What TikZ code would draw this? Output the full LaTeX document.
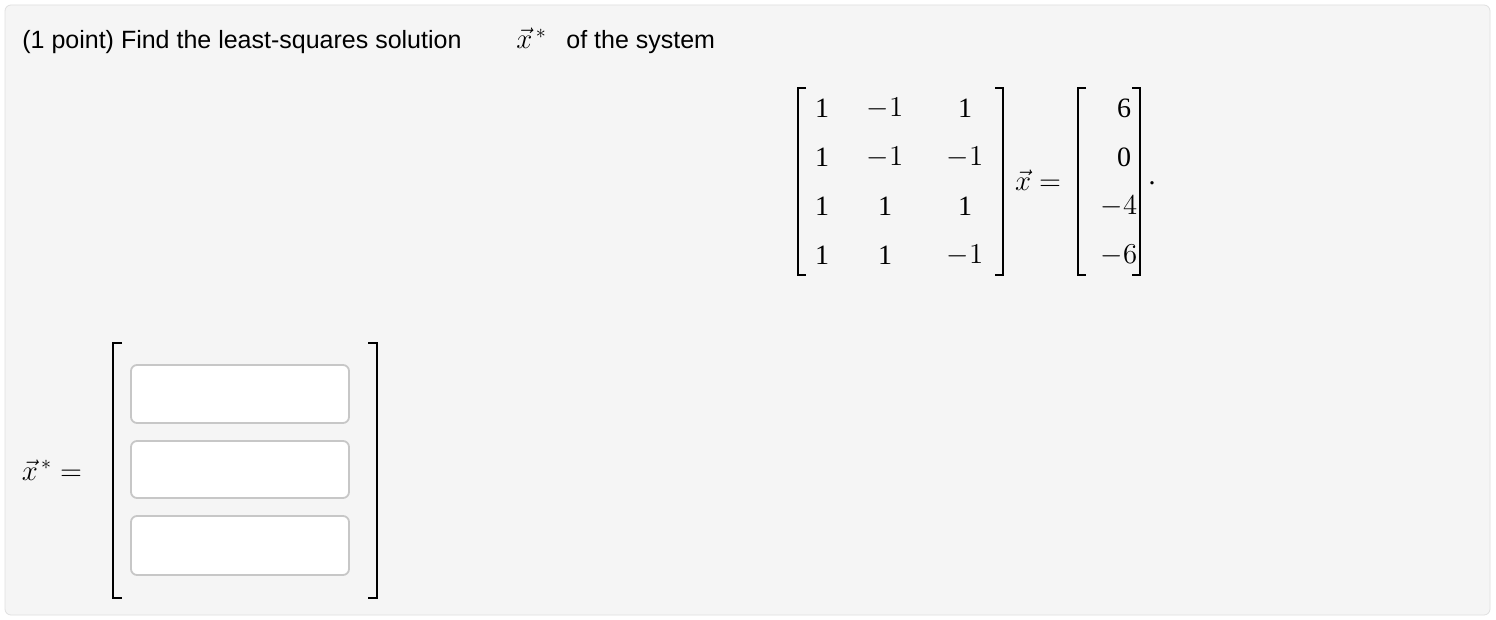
\documentclass[tikz,border=0pt]{standalone}
\usepackage{fontspec}
\setmainfont{Liberation Serif}
\newfontfamily\uisans{Liberation Sans}
\begin{document}
\begin{tikzpicture}[x=0.5pt,y=-0.5pt,
  entry/.style={font=\fontsize{14}{16}\selectfont, anchor=center, inner sep=0pt},
  title/.style={font=\uisans\fontsize{12.5}{15}\selectfont, anchor=base west, inner sep=0pt},
  brk/.style={line width=1pt},
  inbox/.style={draw=black!22, fill=white, rounded corners=3pt, line width=0.9pt}]
\useasboundingbox (0,0) rectangle (1496,620);
\fill[white] (0,0) rectangle (1496,620);
\draw[black!12, fill=black!4, rounded corners=3pt] (5,5) rectangle (1490,615);
% title
\node[title] (t1) at (22,49) {(1 point) Find the least-squares solution};
\node[entry, anchor=base west] (xs1) at (516,49) {$\vec{x}^{\,*}$};
\node[title] (t2) at (566,49) {of the system};
% left matrix brackets
\draw[brk] (806,88) -- (798,88) -- (798,275) -- (806,275);
\draw[brk] (995,88) -- (1003,88) -- (1003,275) -- (995,275);
\foreach \r/\y in {1/108,2/157,3/206,4/255}{}
\node[entry] (a11) at (822,108) {1}; \node[entry] (a12) at (885,108) {$-1$}; \node[entry] (a13) at (965,108) {1};
\node[entry] (a21) at (822,157) {1}; \node[entry] (a22) at (885,157) {$-1$}; \node[entry] (a23) at (965,157) {$-1$};
\node[entry] (a31) at (822,206) {1}; \node[entry] (a32) at (885,206) {1}; \node[entry] (a33) at (965,206) {1};
\node[entry] (a41) at (822,255) {1}; \node[entry] (a42) at (885,255) {1}; \node[entry] (a43) at (965,255) {$-1$};
\node[entry] (xeq) at (1038,180) {$\vec{x}=$};
% right vector
\draw[brk] (1086,88) -- (1078,88) -- (1078,275) -- (1086,275);
\draw[brk] (1132,88) -- (1140,88) -- (1140,275) -- (1132,275);
\node[entry] (b1) at (1124,108) {6};
\node[entry] (b2) at (1124,157) {0};
\node[entry] (b3) at (1119,206) {$-4$};
\node[entry] (b4) at (1119,255) {$-6$};
\node[entry] (dot) at (1152,183) {.};
% answer
\node[entry] (xs2) at (52,470) {$\vec{x}^{\,*}=$};
\draw[brk] (122,343) -- (113,343) -- (113,598) -- (122,598);
\draw[brk] (368,343) -- (377,343) -- (377,598) -- (368,598);
\draw[inbox] (131,365) rectangle (349,423);
\draw[inbox] (131,441) rectangle (349,498);
\draw[inbox] (131,516) rectangle (349,575);
\end{tikzpicture}
\end{document}
